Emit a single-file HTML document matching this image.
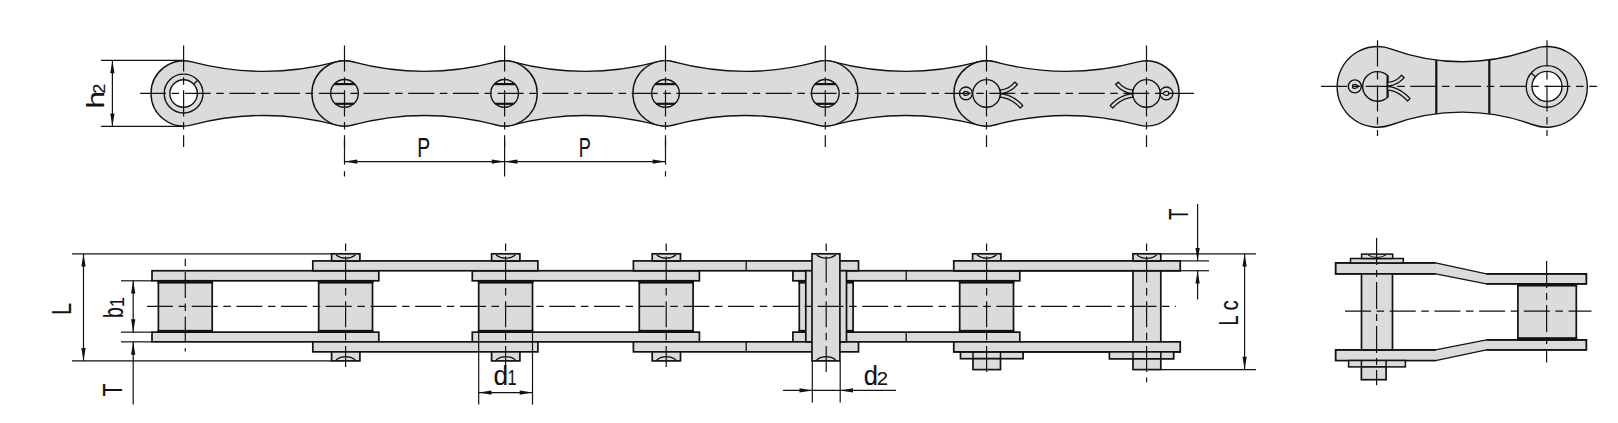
<!DOCTYPE html>
<html><head><meta charset="utf-8"><style>
html,body{margin:0;padding:0;background:#fff;width:1618px;height:423px;overflow:hidden}
svg{display:block}
</style></head><body>
<svg width="1618" height="423" viewBox="0 0 1618 423">
<rect width="1618" height="423" fill="#fff"/>
<g fill="#dbdbdb" stroke="#121212" stroke-width="1.4">
<path d="M191.89 61.87 A283.76 283.76 0 0 0 336.21 61.87 A32.6 32.6 0 1 1 336.21 124.93 A283.76 283.76 0 0 0 191.89 124.93 A32.6 32.6 0 1 1 191.89 61.87 Z"/>
<path d="M512.89 61.87 A283.76 283.76 0 0 0 657.21 61.87 A32.6 32.6 0 1 1 657.21 124.93 A283.76 283.76 0 0 0 512.89 124.93 A32.6 32.6 0 1 1 512.89 61.87 Z"/>
<path d="M833.58 61.87 A284.93 284.93 0 0 0 978.22 61.87 A32.6 32.6 0 1 1 978.22 124.93 A284.93 284.93 0 0 0 833.58 124.93 A32.6 32.6 0 1 1 833.58 61.87 Z"/>
<path d="M352.83 61.88 A280.68 280.68 0 0 0 496.27 61.88 A32.6 32.6 0 1 1 496.27 124.92 A280.68 280.68 0 0 0 352.83 124.92 A32.6 32.6 0 1 1 352.83 61.88 Z"/>
<path d="M673.85 61.89 A279.52 279.52 0 0 0 816.95 61.89 A32.6 32.6 0 1 1 816.95 124.91 A279.52 279.52 0 0 0 673.85 124.91 A32.6 32.6 0 1 1 673.85 61.89 Z"/>
<path d="M994.84 61.88 A280.29 280.29 0 0 0 1138.16 61.88 A32.6 32.6 0 1 1 1138.16 124.92 A280.29 280.29 0 0 0 994.84 124.92 A32.6 32.6 0 1 1 994.84 61.88 Z"/>
</g>
<circle cx="183.6" cy="93.55" r="19.4" fill="#dbdbdb" stroke="#121212" stroke-width="1.4"/>
<circle cx="183.6" cy="93.55" r="13.75" fill="#fff" stroke="#121212" stroke-width="1.4"/>
<line x1="193.66" y1="84.17" x2="197.79" y2="80.32" stroke="#121212" stroke-width="1.3"/>
<circle cx="344.5" cy="93.4" r="13.85" fill="none" stroke="#121212" stroke-width="1.4"/>
<line x1="334.04" y1="84.1" x2="354.96" y2="84.1" stroke="#121212" stroke-width="2.2"/>
<line x1="335.15" y1="103.8" x2="353.85" y2="103.8" stroke="#121212" stroke-width="2.2"/>
<circle cx="504.6" cy="93.4" r="13.85" fill="none" stroke="#121212" stroke-width="1.4"/>
<line x1="494.14" y1="84.1" x2="515.06" y2="84.1" stroke="#121212" stroke-width="2.2"/>
<line x1="495.25" y1="103.8" x2="513.95" y2="103.8" stroke="#121212" stroke-width="2.2"/>
<circle cx="665.5" cy="93.4" r="13.85" fill="none" stroke="#121212" stroke-width="1.4"/>
<line x1="655.04" y1="84.1" x2="675.96" y2="84.1" stroke="#121212" stroke-width="2.2"/>
<line x1="656.15" y1="103.8" x2="674.85" y2="103.8" stroke="#121212" stroke-width="2.2"/>
<circle cx="825.3" cy="93.4" r="13.85" fill="none" stroke="#121212" stroke-width="1.4"/>
<line x1="814.84" y1="84.1" x2="835.76" y2="84.1" stroke="#121212" stroke-width="2.2"/>
<line x1="815.95" y1="103.8" x2="834.65" y2="103.8" stroke="#121212" stroke-width="2.2"/>
<circle cx="986.5" cy="93.4" r="13.8" fill="none" stroke="#121212" stroke-width="1.4"/>
<circle cx="965.9" cy="93.4" r="6.4" fill="#dbdbdb" stroke="#121212" stroke-width="1.4"/>
<path d="M969.7 93.4 C966.9 90.8 963.6 90.5 963.6 93.4 C963.6 96.3 966.9 96 969.7 93.4 Z" fill="none" stroke="#121212" stroke-width="1.25"/>
<path d="M1000.56 93.44 L1001.83 93.29 L1003.07 93.09 L1004.28 92.83 L1005.47 92.51 L1006.63 92.13 L1007.76 91.7 L1008.86 91.21 L1009.94 90.66 L1010.98 90.06 L1011.99 89.4 L1012.97 88.68 L1013.92 87.91 L1014.83 87.08 L1015.71 86.2 L1016.56 85.27 L1017.37 84.28 L1014.63 82.12 L1013.91 82.98 L1013.18 83.79 L1012.42 84.55 L1011.63 85.25 L1010.83 85.91 L1010 86.52 L1009.14 87.08 L1008.26 87.59 L1007.36 88.05 L1006.42 88.47 L1005.47 88.83 L1004.48 89.15 L1003.46 89.43 L1002.42 89.65 L1001.34 89.83 L1000.24 89.96 Z" fill="#dbdbdb" stroke="#121212" stroke-width="1.3" stroke-linejoin="round"/>
<path d="M1000.28 97.35 L1001.63 97.47 L1002.96 97.67 L1004.28 97.94 L1005.58 98.28 L1006.87 98.69 L1008.15 99.17 L1009.41 99.72 L1010.65 100.35 L1011.89 101.04 L1013.11 101.81 L1014.33 102.65 L1015.53 103.57 L1016.72 104.56 L1017.89 105.62 L1019.06 106.76 L1020.21 107.98 L1022.79 105.62 L1021.55 104.31 L1020.29 103.08 L1019.01 101.92 L1017.71 100.83 L1016.39 99.82 L1015.04 98.89 L1013.68 98.03 L1012.3 97.25 L1010.89 96.55 L1009.46 95.93 L1008.02 95.38 L1006.55 94.92 L1005.07 94.53 L1003.57 94.23 L1002.05 94 L1000.52 93.85 Z" fill="#dbdbdb" stroke="#121212" stroke-width="1.3" stroke-linejoin="round"/>
<circle cx="1146.5" cy="93.4" r="13.8" fill="none" stroke="#121212" stroke-width="1.4"/>
<circle cx="1166.4" cy="93.4" r="6.4" fill="#dbdbdb" stroke="#121212" stroke-width="1.4"/>
<path d="M1162.6 93.4 C1165.4 90.8 1168.7 90.5 1168.7 93.4 C1168.7 96.3 1165.4 96 1162.6 93.4 Z" fill="none" stroke="#121212" stroke-width="1.25"/>
<path d="M1132.76 89.96 L1131.66 89.83 L1130.58 89.65 L1129.54 89.43 L1128.52 89.15 L1127.53 88.83 L1126.58 88.47 L1125.64 88.05 L1124.74 87.59 L1123.86 87.08 L1123 86.52 L1122.17 85.91 L1121.37 85.25 L1120.58 84.55 L1119.82 83.79 L1119.09 82.98 L1118.37 82.12 L1115.63 84.28 L1116.44 85.27 L1117.29 86.2 L1118.17 87.08 L1119.08 87.91 L1120.03 88.68 L1121.01 89.4 L1122.02 90.06 L1123.06 90.66 L1124.14 91.21 L1125.24 91.7 L1126.37 92.13 L1127.53 92.51 L1128.72 92.83 L1129.93 93.09 L1131.17 93.29 L1132.44 93.44 Z" fill="#dbdbdb" stroke="#121212" stroke-width="1.3" stroke-linejoin="round"/>
<path d="M1132.48 93.85 L1130.95 94 L1129.43 94.23 L1127.93 94.53 L1126.45 94.92 L1124.98 95.38 L1123.54 95.93 L1122.11 96.55 L1120.7 97.25 L1119.32 98.03 L1117.96 98.89 L1116.61 99.82 L1115.29 100.83 L1113.99 101.92 L1112.71 103.08 L1111.45 104.31 L1110.21 105.62 L1112.79 107.98 L1113.94 106.76 L1115.11 105.62 L1116.28 104.56 L1117.47 103.57 L1118.67 102.65 L1119.89 101.81 L1121.11 101.04 L1122.35 100.35 L1123.59 99.72 L1124.85 99.17 L1126.13 98.69 L1127.42 98.28 L1128.72 97.94 L1130.04 97.67 L1131.37 97.47 L1132.72 97.35 Z" fill="#dbdbdb" stroke="#121212" stroke-width="1.3" stroke-linejoin="round"/>
<line x1="140" y1="93.4" x2="1194" y2="93.4" stroke="#121212" stroke-width="1.2" fill="none" stroke-dasharray="26 5.6 7.5 5.6"/>
<line x1="183.6" y1="45.4" x2="183.6" y2="147" stroke="#121212" stroke-width="1.2" fill="none" stroke-dasharray="26.2 5.6 7.5 5.6"/>
<line x1="344.5" y1="45.4" x2="344.5" y2="147" stroke="#121212" stroke-width="1.2" fill="none" stroke-dasharray="26.2 5.6 7.5 5.6"/>
<line x1="504.6" y1="45.4" x2="504.6" y2="147" stroke="#121212" stroke-width="1.2" fill="none" stroke-dasharray="26.2 5.6 7.5 5.6"/>
<line x1="665.5" y1="45.4" x2="665.5" y2="147" stroke="#121212" stroke-width="1.2" fill="none" stroke-dasharray="26.2 5.6 7.5 5.6"/>
<line x1="825.3" y1="45.4" x2="825.3" y2="147" stroke="#121212" stroke-width="1.2" fill="none" stroke-dasharray="26.2 5.6 7.5 5.6"/>
<line x1="986.5" y1="45.4" x2="986.5" y2="147" stroke="#121212" stroke-width="1.2" fill="none" stroke-dasharray="26.2 5.6 7.5 5.6"/>
<line x1="1146.5" y1="45.4" x2="1146.5" y2="147" stroke="#121212" stroke-width="1.2" fill="none" stroke-dasharray="26.2 5.6 7.5 5.6"/>
<line x1="101" y1="60.4" x2="183.6" y2="60.4" stroke="#121212" stroke-width="1.2" fill="none"/>
<line x1="101" y1="126.4" x2="183.6" y2="126.4" stroke="#121212" stroke-width="1.2" fill="none"/>
<line x1="112.4" y1="60.4" x2="112.4" y2="126.4" stroke="#121212" stroke-width="1.2" fill="none"/>
<path d="M112.4 60.4 L114.55 73.2 L110.25 73.2 Z" fill="#121212"/>
<path d="M112.4 126.4 L110.25 113.6 L114.55 113.6 Z" fill="#121212"/>
<line x1="344.5" y1="161.6" x2="665.5" y2="161.6" stroke="#121212" stroke-width="1.2" fill="none"/>
<path d="M344.5 161.6 L357.3 159.45 L357.3 163.75 Z" fill="#121212"/>
<path d="M504.6 161.6 L491.8 163.75 L491.8 159.45 Z" fill="#121212"/>
<path d="M504.6 161.6 L517.4 159.45 L517.4 163.75 Z" fill="#121212"/>
<path d="M665.5 161.6 L652.7 163.75 L652.7 159.45 Z" fill="#121212"/>
<line x1="344.5" y1="140" x2="344.5" y2="164.6" stroke="#121212" stroke-width="1.2" fill="none"/>
<line x1="344.5" y1="171.2" x2="344.5" y2="176.5" stroke="#121212" stroke-width="1.2" fill="none"/>
<line x1="665.5" y1="140" x2="665.5" y2="164.6" stroke="#121212" stroke-width="1.2" fill="none"/>
<line x1="665.5" y1="171.2" x2="665.5" y2="176.5" stroke="#121212" stroke-width="1.2" fill="none"/>
<line x1="504.6" y1="140" x2="504.6" y2="176.5" stroke="#121212" stroke-width="1.2" fill="none"/>
<text id="P1" transform="translate(417.14 156.9) scale(0.7159 1)" font-size="27" font-family="Liberation Sans, sans-serif" fill="#121212" stroke="#121212" stroke-width="0.12">P</text>
<text id="P2" transform="translate(578.76 156.9) scale(0.6708 1)" font-size="27" font-family="Liberation Sans, sans-serif" fill="#121212" stroke="#121212" stroke-width="0.12">P</text>
<text id="h2h" transform="translate(104.49 108.68) rotate(-90) scale(1.3038 1)" font-size="24.67" font-family="Liberation Sans, sans-serif" fill="#121212" stroke="#121212" stroke-width="0.12">h</text>
<text id="h22" transform="translate(104.88 93.8) rotate(-90) scale(1.0983 1)" font-size="16.58" font-family="Liberation Sans, sans-serif" fill="#121212" stroke="#121212" stroke-width="0.12">2</text>
<text id="L" transform="translate(71 314.98) rotate(-90) scale(0.7622 1)" font-size="28.47" font-family="Liberation Sans, sans-serif" fill="#121212" stroke="#121212" stroke-width="0.12">L</text>
<text id="b1b" transform="translate(123.45 317.9) rotate(-90) scale(0.7189 1)" font-size="27.05" font-family="Liberation Sans, sans-serif" fill="#121212" stroke="#121212" stroke-width="0.12">b</text>
<text id="b11" transform="translate(123.52 307.21) rotate(-90) scale(0.9544 1)" font-size="19.3" font-family="Liberation Sans, sans-serif" fill="#121212" stroke="#121212" stroke-width="0.12">1</text>
<text id="Tl" transform="translate(121.81 396.44) rotate(-90) scale(0.7456 1)" font-size="28.46" font-family="Liberation Sans, sans-serif" fill="#121212" stroke="#121212" stroke-width="0.12">T</text>
<text id="Tr" transform="translate(1187.77 219.99) rotate(-90) scale(0.6511 1)" font-size="28.45" font-family="Liberation Sans, sans-serif" fill="#121212" stroke="#121212" stroke-width="0.12">T</text>
<text id="LcL" transform="translate(1237.95 325.53) rotate(-90) scale(0.6423 1)" font-size="28.45" font-family="Liberation Sans, sans-serif" fill="#121212" stroke="#121212" stroke-width="0.12">L</text>
<text id="Lcc" transform="translate(1237.89 310.62) rotate(-90) scale(0.8128 1)" font-size="25.25" font-family="Liberation Sans, sans-serif" fill="#121212" stroke="#121212" stroke-width="0.12">c</text>
<text id="d1d" transform="translate(493.47 384.67) scale(0.9461 1)" font-size="27.76" font-family="Liberation Sans, sans-serif" fill="#121212" stroke="#121212" stroke-width="0.12">d</text>
<text id="d11" transform="translate(507.4 384.6) scale(0.7569 1)" font-size="21.5" font-family="Liberation Sans, sans-serif" fill="#121212" stroke="#121212" stroke-width="0.12">1</text>
<text id="d2d" transform="translate(863.83 384.81) scale(0.9184 1)" font-size="27.72" font-family="Liberation Sans, sans-serif" fill="#121212" stroke="#121212" stroke-width="0.12">d</text>
<text id="d22" transform="translate(876.8 384.79) scale(1.0655 1)" font-size="19.08" font-family="Liberation Sans, sans-serif" fill="#121212" stroke="#121212" stroke-width="0.12">2</text>
<path d="M1391.48 49.05 A204.27 204.27 0 0 0 1533.02 49.05 A40.35 40.35 0 1 1 1533.02 124.75 A204.27 204.27 0 0 0 1391.48 124.75 A40.35 40.35 0 1 1 1391.48 49.05 Z" fill="#dbdbdb" stroke="#121212" stroke-width="1.4"/>
<line x1="1436.3" y1="60.05" x2="1436.3" y2="113.75" stroke="#121212" stroke-width="2.2"/>
<line x1="1489.3" y1="59.9" x2="1489.3" y2="113.9" stroke="#121212" stroke-width="2.2"/>
<circle cx="1547" cy="86.4" r="20.8" fill="#dbdbdb" stroke="#121212" stroke-width="1.35"/>
<circle cx="1547" cy="86.4" r="15" fill="#fff" stroke="#121212" stroke-width="1.35"/>
<line x1="1535.51" y1="76.76" x2="1531.07" y2="73.03" stroke="#121212" stroke-width="1.3"/>
<path d="M1387.6 75.6 A14.8 14.8 0 1 0 1387.6 97.2 Z" fill="#dbdbdb" stroke="#121212" stroke-width="1.4"/>
<line x1="1387.6" y1="75.5" x2="1387.6" y2="97.3" stroke="#121212" stroke-width="2.1"/>
<circle cx="1354.8" cy="86.4" r="6.5" fill="#dbdbdb" stroke="#121212" stroke-width="1.4"/>
<path d="M1358.6 86.4 C1355.8 83.8 1352.5 83.5 1352.5 86.4 C1352.5 89.3 1355.8 89 1358.6 86.4 Z" fill="none" stroke="#121212" stroke-width="1.25"/>
<path d="M1387.75 85.94 L1388.99 85.81 L1390.2 85.63 L1391.38 85.39 L1392.54 85.1 L1393.67 84.76 L1394.78 84.36 L1395.85 83.91 L1396.9 83.41 L1397.92 82.85 L1398.9 82.24 L1399.86 81.58 L1400.78 80.87 L1401.67 80.11 L1402.53 79.29 L1403.35 78.43 L1404.15 77.52 L1401.45 75.28 L1400.77 76.07 L1400.06 76.81 L1399.33 77.51 L1398.57 78.15 L1397.79 78.76 L1396.99 79.31 L1396.16 79.83 L1395.3 80.29 L1394.42 80.72 L1393.51 81.1 L1392.57 81.43 L1391.61 81.73 L1390.61 81.97 L1389.59 82.18 L1388.54 82.34 L1387.45 82.46 Z" fill="#dbdbdb" stroke="#121212" stroke-width="1.3" stroke-linejoin="round"/>
<path d="M1387.45 89.94 L1388.77 90.1 L1390.09 90.32 L1391.39 90.61 L1392.68 90.97 L1393.97 91.41 L1395.24 91.91 L1396.5 92.49 L1397.76 93.14 L1399.01 93.86 L1400.25 94.65 L1401.48 95.52 L1402.7 96.46 L1403.92 97.48 L1405.13 98.58 L1406.33 99.74 L1407.52 100.99 L1410.08 98.61 L1408.81 97.28 L1407.52 96.02 L1406.22 94.84 L1404.9 93.74 L1403.56 92.7 L1402.2 91.75 L1400.83 90.87 L1399.44 90.06 L1398.03 89.34 L1396.61 88.69 L1395.17 88.12 L1393.72 87.63 L1392.25 87.22 L1390.76 86.88 L1389.26 86.63 L1387.75 86.46 Z" fill="#dbdbdb" stroke="#121212" stroke-width="1.3" stroke-linejoin="round"/>
<line x1="1321" y1="86.4" x2="1597" y2="86.4" stroke="#121212" stroke-width="1.2" fill="none" stroke-dasharray="26 5.6 7.5 5.6"/>
<line x1="1377.5" y1="40.3" x2="1377.5" y2="136" stroke="#121212" stroke-width="1.2" fill="none" stroke-dasharray="26.2 5.6 7.5 5.6"/>
<line x1="1547" y1="40.3" x2="1547" y2="136" stroke="#121212" stroke-width="1.2" fill="none" stroke-dasharray="26.2 5.6 7.5 5.6"/>

<rect x="152" y="270.75" width="226.8" height="10.05" fill="#dbdbdb" stroke="#121212" stroke-width="1.7"/>
<rect x="152" y="332.15" width="226.8" height="9.7" fill="#dbdbdb" stroke="#121212" stroke-width="1.7"/>
<rect x="472.3" y="270.75" width="227.1" height="10.05" fill="#dbdbdb" stroke="#121212" stroke-width="1.7"/>
<rect x="472.3" y="332.15" width="227.1" height="9.7" fill="#dbdbdb" stroke="#121212" stroke-width="1.7"/>
<rect x="792.9" y="270.75" width="226.9" height="10.05" fill="#dbdbdb" stroke="#121212" stroke-width="1.7"/>
<rect x="792.9" y="332.15" width="226.9" height="9.7" fill="#dbdbdb" stroke="#121212" stroke-width="1.7"/>
<line x1="906.2" y1="270.75" x2="906.2" y2="280.8" stroke="#121212" stroke-width="1.3"/>
<line x1="906.2" y1="332.15" x2="906.2" y2="341.85" stroke="#121212" stroke-width="1.3"/>
<rect x="158.4" y="280.8" width="53.8" height="51.35" fill="#dbdbdb" stroke="#121212" stroke-width="1.7"/>
<rect x="157.55" y="280.8" width="55.5" height="2.8" fill="#121212"/>
<rect x="157.55" y="329.85" width="55.5" height="2.3" fill="#121212"/>
<rect x="318.7" y="280.8" width="53.8" height="51.35" fill="#dbdbdb" stroke="#121212" stroke-width="1.7"/>
<rect x="317.85" y="280.8" width="55.5" height="2.8" fill="#121212"/>
<rect x="317.85" y="329.85" width="55.5" height="2.3" fill="#121212"/>
<rect x="478.7" y="280.8" width="53.8" height="51.35" fill="#dbdbdb" stroke="#121212" stroke-width="1.7"/>
<rect x="477.85" y="280.8" width="55.5" height="2.8" fill="#121212"/>
<rect x="477.85" y="329.85" width="55.5" height="2.3" fill="#121212"/>
<rect x="639.3" y="280.8" width="53.8" height="51.35" fill="#dbdbdb" stroke="#121212" stroke-width="1.7"/>
<rect x="638.45" y="280.8" width="55.5" height="2.8" fill="#121212"/>
<rect x="638.45" y="329.85" width="55.5" height="2.3" fill="#121212"/>
<rect x="799.3" y="280.8" width="53.8" height="51.35" fill="#dbdbdb" stroke="#121212" stroke-width="1.7"/>
<rect x="798.45" y="280.8" width="55.5" height="2.8" fill="#121212"/>
<rect x="798.45" y="329.85" width="55.5" height="2.3" fill="#121212"/>
<rect x="959.7" y="280.8" width="53.8" height="51.35" fill="#dbdbdb" stroke="#121212" stroke-width="1.7"/>
<rect x="958.85" y="280.8" width="55.5" height="2.8" fill="#121212"/>
<rect x="958.85" y="329.85" width="55.5" height="2.3" fill="#121212"/>
<rect x="312.8" y="260.9" width="225.1" height="9.85" fill="#dbdbdb" stroke="#121212" stroke-width="1.7"/>
<rect x="312.8" y="341.85" width="225.1" height="10" fill="#dbdbdb" stroke="#121212" stroke-width="1.7"/>
<rect x="633.4" y="260.9" width="225.1" height="9.85" fill="#dbdbdb" stroke="#121212" stroke-width="1.7"/>
<rect x="633.4" y="341.85" width="225.1" height="10" fill="#dbdbdb" stroke="#121212" stroke-width="1.7"/>
<rect x="953.8" y="260.9" width="226.4" height="9.85" fill="#dbdbdb" stroke="#121212" stroke-width="1.7"/>
<rect x="953.8" y="341.85" width="226.4" height="10" fill="#dbdbdb" stroke="#121212" stroke-width="1.7"/>
<line x1="746.2" y1="260.9" x2="746.2" y2="270.75" stroke="#121212" stroke-width="1.3"/>
<line x1="746.2" y1="341.85" x2="746.2" y2="351.85" stroke="#121212" stroke-width="1.3"/>
<rect x="331.6" y="253.8" width="28.3" height="7.1" fill="#dbdbdb" stroke="#121212" stroke-width="1.7"/>
<path d="M336 254.9 A16 16 0 0 0 355.4 254.9" fill="none" stroke="#121212" stroke-width="1.25"/>
<rect x="331.6" y="351.85" width="28.3" height="9.05" fill="#dbdbdb" stroke="#121212" stroke-width="1.7"/>
<path d="M336 359.8 A16 16 0 0 1 355.4 359.8" fill="none" stroke="#121212" stroke-width="1.25"/>
<rect x="491.6" y="253.8" width="28.3" height="7.1" fill="#dbdbdb" stroke="#121212" stroke-width="1.7"/>
<path d="M496 254.9 A16 16 0 0 0 515.4 254.9" fill="none" stroke="#121212" stroke-width="1.25"/>
<rect x="491.6" y="351.85" width="28.3" height="9.05" fill="#dbdbdb" stroke="#121212" stroke-width="1.7"/>
<path d="M496 359.8 A16 16 0 0 1 515.4 359.8" fill="none" stroke="#121212" stroke-width="1.25"/>
<rect x="652.2" y="253.8" width="28.3" height="7.1" fill="#dbdbdb" stroke="#121212" stroke-width="1.7"/>
<path d="M656.6 254.9 A16 16 0 0 0 676 254.9" fill="none" stroke="#121212" stroke-width="1.25"/>
<rect x="652.2" y="351.85" width="28.3" height="9.05" fill="#dbdbdb" stroke="#121212" stroke-width="1.7"/>
<path d="M656.6 359.8 A16 16 0 0 1 676 359.8" fill="none" stroke="#121212" stroke-width="1.25"/>
<rect x="805.8" y="270.75" width="40.7" height="71.1" fill="#dbdbdb" stroke="#121212" stroke-width="1.7"/>
<rect x="812" y="253.8" width="27.9" height="107.1" fill="#dbdbdb" stroke="#121212" stroke-width="1.7"/>
<path d="M816.6 254.9 A16 16 0 0 0 835.7 254.9" fill="none" stroke="#121212" stroke-width="1.25"/>
<path d="M816.6 359.8 A16 16 0 0 1 835.7 359.8" fill="none" stroke="#121212" stroke-width="1.25"/>
<rect x="972.6" y="253.8" width="28.3" height="7.1" fill="#dbdbdb" stroke="#121212" stroke-width="1.7"/>
<path d="M977 254.9 A16 16 0 0 0 996.4 254.9" fill="none" stroke="#121212" stroke-width="1.25"/>
<rect x="960.5" y="351.85" width="62.6" height="6.85" fill="#dbdbdb" stroke="#121212" stroke-width="1.7"/>
<rect x="973" y="358.7" width="27.5" height="10.9" fill="#dbdbdb" stroke="#121212" stroke-width="1.7"/>
<line x1="973" y1="351.85" x2="973" y2="358.7" stroke="#121212" stroke-width="1.5"/>
<line x1="1000.5" y1="351.85" x2="1000.5" y2="358.7" stroke="#121212" stroke-width="1.5"/>
<rect x="1133" y="270.75" width="27.8" height="71.1" fill="#dbdbdb" stroke="#121212" stroke-width="1.7"/>
<rect x="953.8" y="260.9" width="226.4" height="9.85" fill="#dbdbdb" stroke="#121212" stroke-width="1.7"/>
<rect x="953.8" y="341.85" width="226.4" height="10" fill="#dbdbdb" stroke="#121212" stroke-width="1.7"/>
<rect x="1133" y="253.8" width="27.8" height="7.1" fill="#dbdbdb" stroke="#121212" stroke-width="1.7"/>
<path d="M1137 254.9 A16 16 0 0 0 1156.7 254.9" fill="none" stroke="#121212" stroke-width="1.25"/>
<rect x="1109.4" y="351.85" width="64.3" height="7.05" fill="#dbdbdb" stroke="#121212" stroke-width="1.7"/>
<rect x="1133" y="358.9" width="27.8" height="10.7" fill="#dbdbdb" stroke="#121212" stroke-width="1.7"/>
<line x1="1133" y1="351.85" x2="1133" y2="358.9" stroke="#121212" stroke-width="1.5"/>
<line x1="1160.8" y1="351.85" x2="1160.8" y2="358.9" stroke="#121212" stroke-width="1.5"/>
<line x1="147" y1="306.3" x2="1176" y2="306.3" stroke="#121212" stroke-width="1.2" fill="none" stroke-dasharray="26 5.6 7.5 5.6"/>
<line x1="185.3" y1="258.8" x2="185.3" y2="351.5" stroke="#121212" stroke-width="1.2" fill="none" stroke-dasharray="7.5 5.6 26 5.6"/>
<line x1="345.6" y1="243.4" x2="345.6" y2="367" stroke="#121212" stroke-width="1.2" fill="none" stroke-dasharray="7.5 5.6 26 5.6"/>
<line x1="505.6" y1="243.4" x2="505.6" y2="367" stroke="#121212" stroke-width="1.2" fill="none" stroke-dasharray="7.5 5.6 26 5.6"/>
<line x1="666.2" y1="243.4" x2="666.2" y2="367" stroke="#121212" stroke-width="1.2" fill="none" stroke-dasharray="7.5 5.6 26 5.6"/>
<line x1="826.2" y1="243.4" x2="826.2" y2="373" stroke="#121212" stroke-width="1.2" fill="none" stroke-dasharray="7.5 5.6 26 5.6"/>
<line x1="986.6" y1="243.4" x2="986.6" y2="376" stroke="#121212" stroke-width="1.2" fill="none" stroke-dasharray="7.5 5.6 26 5.6"/>
<line x1="1146.6" y1="243.4" x2="1146.6" y2="382.2" stroke="#121212" stroke-width="1.2" fill="none" stroke-dasharray="7.5 5.6 26 5.6"/>
<line x1="72" y1="253.8" x2="331.6" y2="253.8" stroke="#121212" stroke-width="1.2"/>
<line x1="72" y1="360.9" x2="331.6" y2="360.9" stroke="#121212" stroke-width="1.2"/>
<line x1="83.5" y1="253.8" x2="83.5" y2="360.9" stroke="#121212" stroke-width="1.2"/>
<path d="M83.5 253.8 L85.65 266.6 L81.35 266.6 Z" fill="#121212"/>
<path d="M83.5 360.9 L81.35 348.1 L85.65 348.1 Z" fill="#121212"/>
<line x1="121" y1="280.8" x2="152" y2="280.8" stroke="#121212" stroke-width="1.2"/>
<line x1="121" y1="332.15" x2="152" y2="332.15" stroke="#121212" stroke-width="1.2"/>
<line x1="121" y1="341.85" x2="152" y2="341.85" stroke="#121212" stroke-width="1.2"/>
<line x1="133.2" y1="280.8" x2="133.2" y2="332.15" stroke="#121212" stroke-width="1.2"/>
<path d="M133.2 280.8 L135.35 293.6 L131.05 293.6 Z" fill="#121212"/>
<path d="M133.2 332.15 L131.05 319.35 L135.35 319.35 Z" fill="#121212"/>
<line x1="133.2" y1="341.85" x2="133.2" y2="404.6" stroke="#121212" stroke-width="1.2"/>
<path d="M133.2 341.85 L135.35 354.65 L131.05 354.65 Z" fill="#121212"/>
<line x1="478.7" y1="332.15" x2="478.7" y2="404.6" stroke="#121212" stroke-width="1.2"/>
<line x1="532.5" y1="332.15" x2="532.5" y2="404.6" stroke="#121212" stroke-width="1.2"/>
<line x1="478.7" y1="392.6" x2="532.5" y2="392.6" stroke="#121212" stroke-width="1.2"/>
<path d="M478.7 392.6 L491.5 390.45 L491.5 394.75 Z" fill="#121212"/>
<path d="M532.5 392.6 L519.7 394.75 L519.7 390.45 Z" fill="#121212"/>
<line x1="812.3" y1="360.9" x2="812.3" y2="402.5" stroke="#121212" stroke-width="1.2"/>
<line x1="840.2" y1="360.9" x2="840.2" y2="402.5" stroke="#121212" stroke-width="1.2"/>
<line x1="783" y1="390.4" x2="896" y2="390.4" stroke="#121212" stroke-width="1.2"/>
<path d="M812.3 390.4 L799.5 392.55 L799.5 388.25 Z" fill="#121212"/>
<path d="M840.2 390.4 L853 388.25 L853 392.55 Z" fill="#121212"/>
<line x1="1161" y1="253.8" x2="1256" y2="253.8" stroke="#121212" stroke-width="1.2"/>
<line x1="1180.2" y1="260.9" x2="1209" y2="260.9" stroke="#121212" stroke-width="1.2"/>
<line x1="1180.2" y1="270.75" x2="1209" y2="270.75" stroke="#121212" stroke-width="1.2"/>
<line x1="1197.6" y1="204" x2="1197.6" y2="260.9" stroke="#121212" stroke-width="1.2"/>
<path d="M1197.6 260.9 L1195.45 248.1 L1199.75 248.1 Z" fill="#121212"/>
<line x1="1197.6" y1="270.75" x2="1197.6" y2="299.5" stroke="#121212" stroke-width="1.2"/>
<path d="M1197.6 270.75 L1199.75 283.55 L1195.45 283.55 Z" fill="#121212"/>
<line x1="1161" y1="369.6" x2="1256" y2="369.6" stroke="#121212" stroke-width="1.2"/>
<line x1="1244.6" y1="253.8" x2="1244.6" y2="369.6" stroke="#121212" stroke-width="1.2"/>
<path d="M1244.6 253.8 L1246.75 266.6 L1242.45 266.6 Z" fill="#121212"/>
<path d="M1244.6 369.6 L1242.45 356.8 L1246.75 356.8 Z" fill="#121212"/>
<path d="M1335.6 262.9 L1435.6 262.9 L1486.4 273.9 L1586.4 273.9 L1586.4 283.9 L1486.4 283.9 L1435.6 273.9 L1335.6 273.9 Z" fill="#dbdbdb" stroke="#121212" stroke-width="1.25"/>
<path d="M1335.6 360.5 L1435.6 360.5 L1486.4 349.9 L1586.4 349.9 L1586.4 339.8 L1486.4 339.8 L1435.6 349.9 L1335.6 349.9 Z" fill="#dbdbdb" stroke="#121212" stroke-width="1.25"/>
<path d="M1435.6 262.9 L1335.6 262.9 L1335.6 273.9 L1435.6 273.9 M1486.4 273.9 L1586.4 273.9 L1586.4 283.9 L1486.4 283.9" fill="none" stroke="#121212" stroke-width="1.7"/>
<path d="M1435.6 360.5 L1335.6 360.5 L1335.6 349.9 L1435.6 349.9 M1486.4 349.9 L1586.4 349.9 L1586.4 339.8 L1486.4 339.8" fill="none" stroke="#121212" stroke-width="1.7"/>
<rect x="1517.9" y="283.9" width="58.4" height="55.9" fill="#dbdbdb" stroke="#121212" stroke-width="1.7"/>
<rect x="1517" y="283.9" width="60.2" height="2.6" fill="#121212"/>
<rect x="1517" y="337.2" width="60.2" height="2.6" fill="#121212"/>
<rect x="1361.5" y="273.9" width="31" height="76" fill="#dbdbdb" stroke="#121212" stroke-width="1.7"/>
<rect x="1350.5" y="258.5" width="52.8" height="4.4" fill="#dbdbdb" stroke="#121212" stroke-width="1.5"/>
<rect x="1361.6" y="254.1" width="31.1" height="4.4" fill="#dbdbdb" stroke="#121212" stroke-width="1.5"/>
<path d="M1368 255 Q1377 260 1386 255" fill="none" stroke="#121212" stroke-width="1"/>
<rect x="1348.6" y="360.5" width="56.8" height="6.4" fill="#dbdbdb" stroke="#121212" stroke-width="1.5"/>
<rect x="1361.4" y="366.9" width="24.7" height="12.8" fill="#dbdbdb" stroke="#121212" stroke-width="1.7"/>
<line x1="1361.4" y1="360.5" x2="1361.4" y2="366.9" stroke="#121212" stroke-width="1.5"/>
<line x1="1386.1" y1="360.5" x2="1386.1" y2="366.9" stroke="#121212" stroke-width="1.5"/>
<line x1="1345" y1="311.1" x2="1591.5" y2="311.1" stroke="#121212" stroke-width="1.2" fill="none" stroke-dasharray="26 5.6 7.5 5.6"/>
<line x1="1376.6" y1="238" x2="1376.6" y2="385.3" stroke="#121212" stroke-width="1.2" fill="none" stroke-dasharray="27 5 7 5"/>
<line x1="1546.6" y1="261" x2="1546.6" y2="362.5" stroke="#121212" stroke-width="1.2" fill="none" stroke-dasharray="27 5 7 5"/>
</svg>
</body></html>
